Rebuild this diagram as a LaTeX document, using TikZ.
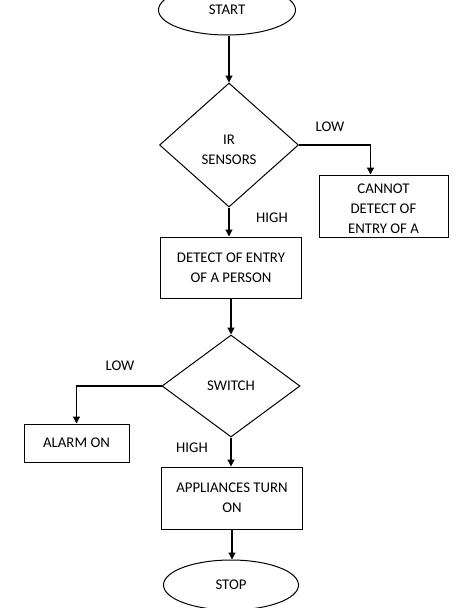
\documentclass[tikz,border=0pt]{standalone}
\usepackage{fontspec}
\setmainfont{Carlito}
\usetikzlibrary{arrows.meta, shapes.geometric, positioning}

\begin{document}
\begin{tikzpicture}[
  x=1pt, y=-1pt,
  every node/.style={align=center, font=\fontsize{14.8}{20}\selectfont, inner sep=2pt},
  term/.style={ellipse, draw, line width=1pt},
  decision/.style={diamond, draw, line width=1pt, inner sep=0pt},
  process/.style={rectangle, draw, line width=1pt},
  arrow/.style={-{Triangle[width=7pt,length=7pt]}, line width=1.2pt}
]
\useasboundingbox (0,0) rectangle (474,608);

\node (start) [term, minimum width=137pt, minimum height=50pt] at (227,10) {START};
\node (irsensor) [decision, minimum width=139pt, minimum height=124pt] at (229,145) {\mbox{}\\IR\\SENSORS};
\node (nodetect) [process, inner sep=0pt, minimum width=129pt, minimum height=62pt] at (383.5,206) {\mbox{}\\[-4pt]CANNOT\\DETECT OF\\ENTRY OF A};
\node (detect) [process, minimum width=141pt, minimum height=61pt] at (231,267.5) {DETECT OF ENTRY\\OF A PERSON};
\node (switch) [decision, minimum width=138pt, minimum height=102pt] at (231,386) {SWITCH};
\node (alarm) [process, minimum width=105pt, minimum height=38pt] at (76.5,443) {ALARM ON};
\node (appliances) [process, minimum width=141pt, minimum height=62pt] at (232,498) {APPLIANCES TURN\\ON};
\node (stop) [term, minimum width=135pt, minimum height=50pt] at (231,585) {STOP};

% branch labels
\node (irlow) at (330,127) {LOW};
\node (irhigh) at (272,218) {HIGH};
\node (swlow) at (120,366) {LOW};
\node (swhigh) at (192,448) {HIGH};

\draw[arrow] (start.south -| irsensor.north) -- (irsensor.north);
\draw[arrow] (irsensor.east) -| ([xshift=-13pt]nodetect.north);
\draw[arrow] (irsensor.south) -- (irsensor.south |- detect.north);
\draw[arrow] (detect.south) -- (detect.south |- switch.north);
\draw[arrow] (switch.west) -| (alarm.north);
\draw[arrow] (switch.south) -- (switch.south |- appliances.north);
\draw[arrow] (appliances.south) -- (appliances.south |- stop.north);

\end{tikzpicture}
\end{document}
